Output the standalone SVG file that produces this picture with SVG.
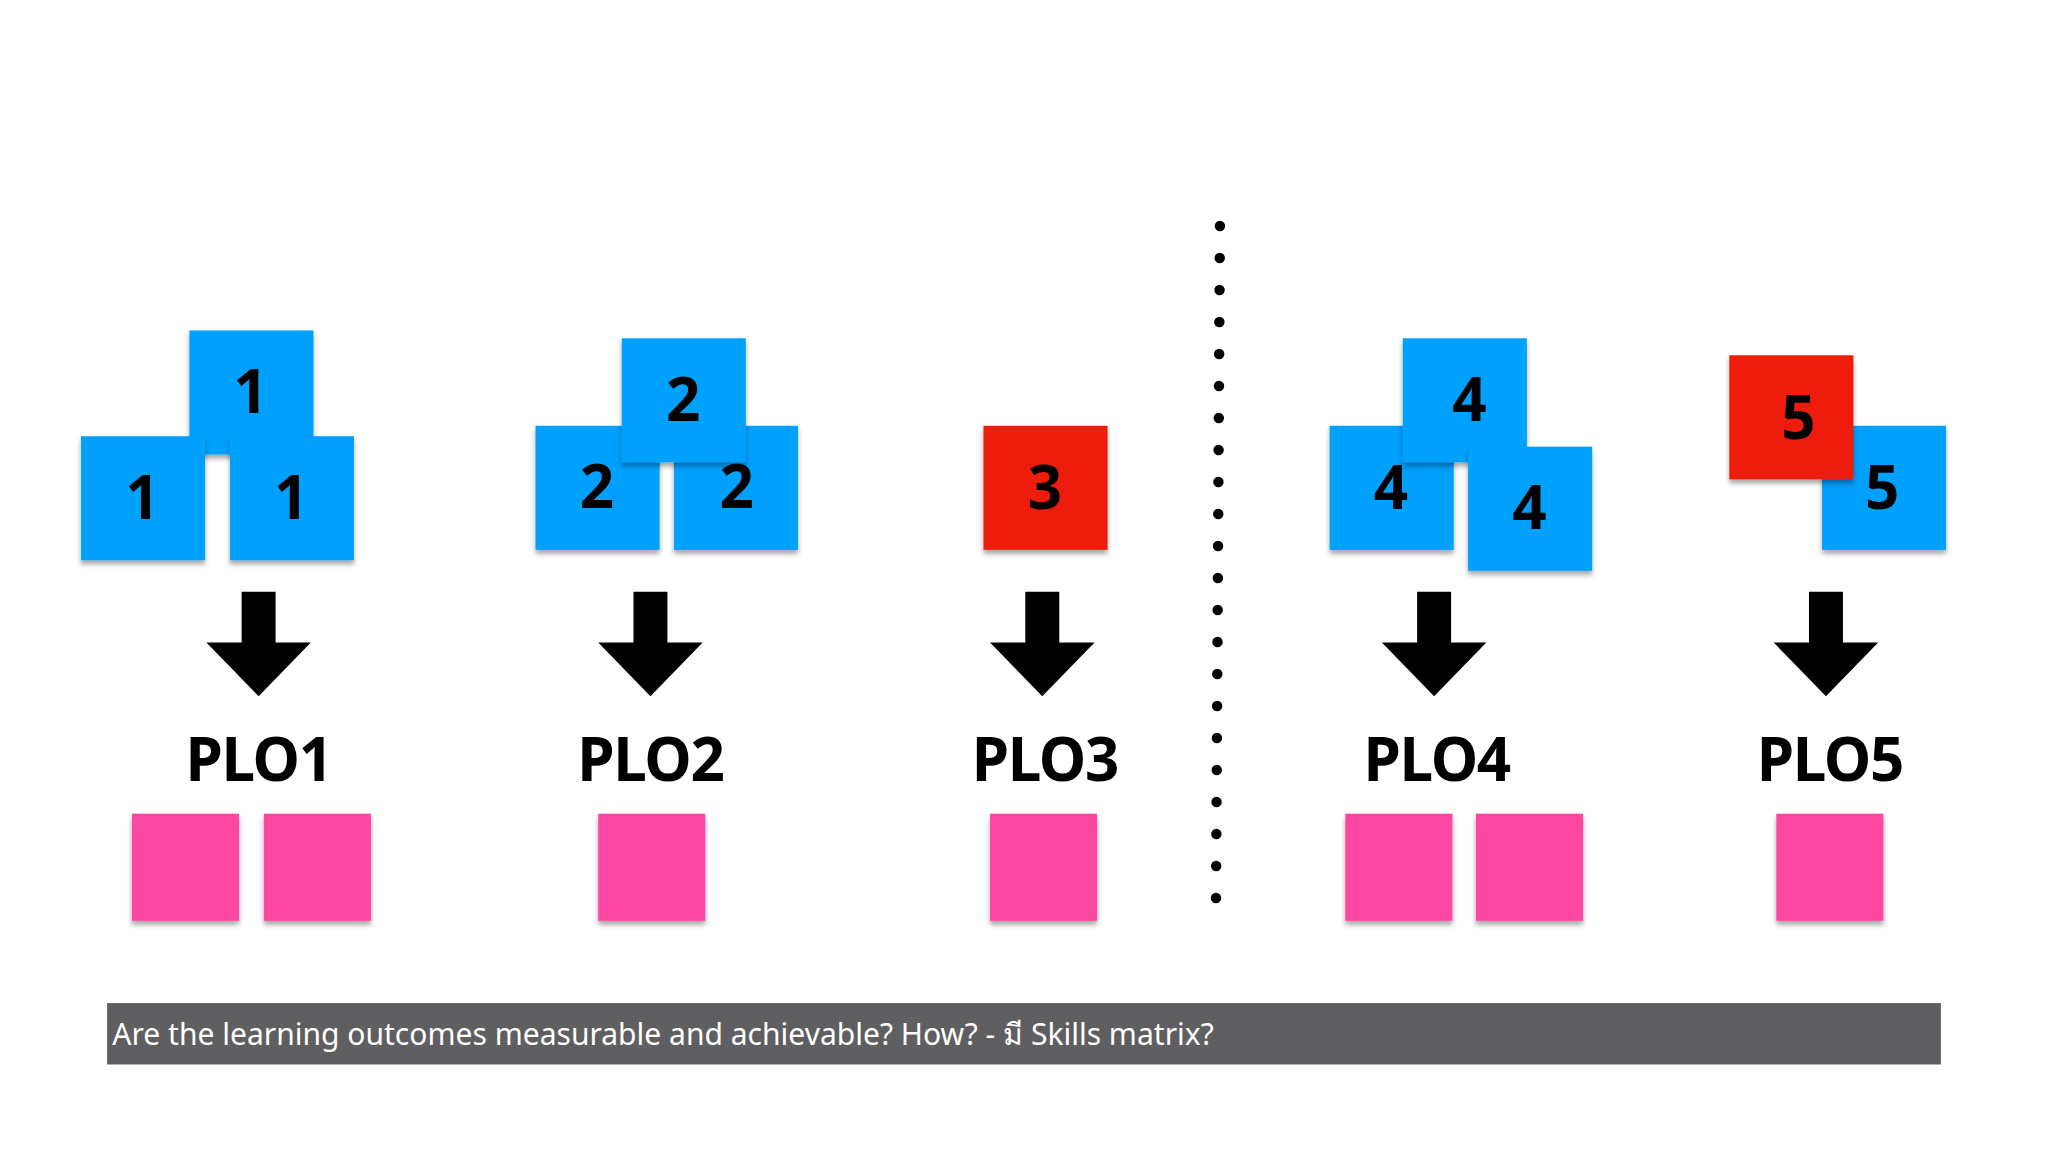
<svg xmlns="http://www.w3.org/2000/svg" width="2048" height="1152" viewBox="0 0 2048 1152">
<style>
.b{fill:#01a0fd;filter:url(#sh)}
.r{fill:#ee1c0c;filter:url(#sh)}
.p{fill:#fe46a3;filter:url(#sh)}
.n{font-family:"Noto Sans","DejaVu Sans",sans-serif;font-weight:bold;font-size:46px;fill:#000;text-anchor:middle}
.l{font-family:"Noto Sans","DejaVu Sans",sans-serif;font-weight:bold;font-size:46px;fill:#000;text-anchor:middle;letter-spacing:-1px}
</style>
<defs>
<filter id="sh" x="-10%" y="-10%" width="120%" height="130%"><feDropShadow dx="0" dy="3" stdDeviation="2" flood-color="#000" flood-opacity="0.35"/></filter>
<polygon id="arr" points="-13,0 13,0 13,39 40,39 0,80 -40,39 -13,39"/>
</defs>
<rect width="2048" height="1152" fill="#fff"/>
<g transform="scale(1.30612)">
<g id="g1">
<rect class="b" x="145" y="253" width="95" height="95"/><text class="n" x="192" y="316">1</text>
<rect class="b" x="62" y="334" width="95" height="95"/><text class="n" x="109" y="397">1</text>
<rect class="b" x="176" y="334" width="95" height="95"/><text class="n" x="223" y="397">1</text>
</g>
<g id="g2">
<rect class="b" x="410" y="326" width="95" height="95"/><text class="n" x="457" y="389">2</text>
<rect class="b" x="516" y="326" width="95" height="95"/><text class="n" x="564" y="389">2</text>
<rect class="b" x="476" y="259" width="95" height="95"/><text class="n" x="523" y="322">2</text>
</g>
<g id="g3">
<rect class="r" x="753" y="326" width="95" height="95"/><text class="n" x="800" y="390">3</text>
</g>
<g id="g4">
<rect class="b" x="1018" y="326" width="95" height="95"/><text class="n" x="1065" y="390">4</text>
<rect class="b" x="1074" y="259" width="95" height="95"/><text class="n" x="1125" y="322">4</text>
<rect class="b" x="1124" y="342" width="95" height="95"/><text class="n" x="1171" y="405">4</text>
</g>
<g id="g5">
<rect class="b" x="1395" y="326" width="95" height="95"/><text class="n" x="1441" y="390">5</text>
<rect class="r" x="1324" y="272" width="95" height="95"/><text class="n" x="1377" y="336">5</text>
</g>
<g id="connectors">
<use href="#arr" x="198" y="453"/>
<use href="#arr" x="498" y="453"/>
<use href="#arr" x="798" y="453"/>
<use href="#arr" x="1098" y="453"/>
<use href="#arr" x="1398" y="453"/>
</g>
<g id="plo1"><text class="l" x="198" y="598">PLO1</text>
<rect class="p" x="101" y="623" width="82" height="82"/><rect class="p" x="202" y="623" width="82" height="82"/></g>
<g id="plo2"><text class="l" x="498" y="598">PLO2</text>
<rect class="p" x="458" y="623" width="82" height="82"/></g>
<g id="plo3"><text class="l" x="800" y="598">PLO3</text>
<rect class="p" x="758" y="623" width="82" height="82"/></g>
<g id="plo4"><text class="l" x="1100" y="598">PLO4</text>
<rect class="p" x="1030" y="623" width="82" height="82"/><rect class="p" x="1130" y="623" width="82" height="82"/></g>
<g id="plo5"><text class="l" x="1401" y="598">PLO5</text>
<rect class="p" x="1360" y="623" width="82" height="82"/></g>
<line x1="934" y1="173" x2="931" y2="688" stroke="#000" stroke-width="8" stroke-linecap="round" stroke-dasharray="0 24.5"/>
<g id="caption">
<rect x="82" y="768" width="1404" height="47" fill="#5f5e60"/>
<text x="86" y="800" font-family="'Noto Sans','DejaVu Sans',sans-serif" font-size="23" fill="#fff">Are the learning outcomes measurable and achievable? How? - มี Skills matrix?</text>
</g>
</g>
</svg>
